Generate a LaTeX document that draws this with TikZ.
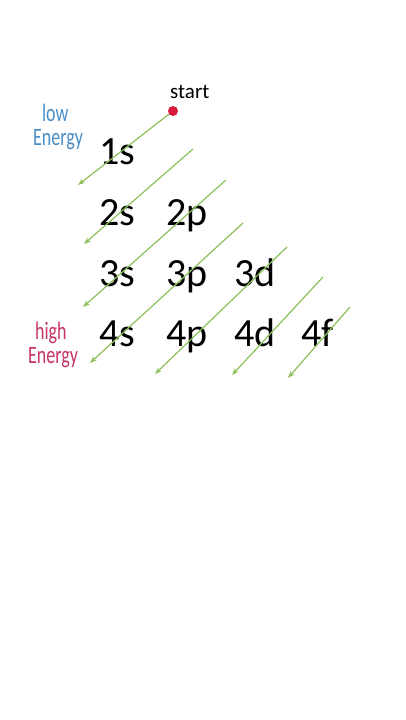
\documentclass[tikz,border=0pt]{standalone}
\usepackage{fontspec}
\setmainfont{Carlito}
\usetikzlibrary{arrows.meta}
\definecolor{arrowgreen}{HTML}{8DC05A}
\definecolor{dotred}{HTML}{D81B3C}
\definecolor{lowblue}{HTML}{4A8FC8}
\definecolor{highpink}{HTML}{C8336A}
\tikzset{
  orb/.style={anchor=base west, inner sep=0pt, font=\fontsize{40}{40}\selectfont, text=black},
  diag/.style={draw=arrowgreen, line width=1.2pt, -{Stealth[length=7pt,width=5pt]}},
  hand/.style={align=left, inner sep=0pt, font=\fontsize{25}{24}\selectfont\addfontfeatures{FakeStretch=0.72}},
}
\begin{document}
\begin{tikzpicture}[x=1pt,y=-1pt]
\useasboundingbox[fill=white] (0,0) rectangle (405,720);
% orbitals
\node[orb] (o1s) at (99,164) {1s};
\node[orb] (o2s) at (99,225) {2s};
\node[orb] (o2p) at (166,225) {2p};
\node[orb] (o3s) at (99,286) {3s};
\node[orb] (o3p) at (166,286) {3p};
\node[orb] (o3d) at (234,286) {3d};
\node[orb] (o4s) at (99,346) {4s};
\node[orb] (o4p) at (166,346) {4p};
\node[orb] (o4d) at (234,346) {4d};
\node[orb] (o4f) at (301,346) {4f};
% labels
\node[anchor=base west, inner sep=0pt, font=\fontsize{21}{21}\selectfont] (start) at (170,98) {start};
\node[hand, text=lowblue] (low) at (58,127) {\hspace*{9pt}low\\Energy};
\node[hand, text=highpink] (high) at (53,345) {\hspace*{7pt}high\\Energy};
% arrow end points
\coordinate (a1s) at (173,111); \coordinate (a1e) at (78,185);
\coordinate (a2s) at (193,149); \coordinate (a2e) at (84,244);
\coordinate (a3s) at (226,180); \coordinate (a3e) at (83,307);
\coordinate (a4s) at (243,223); \coordinate (a4e) at (90,363);
\coordinate (a5s) at (287,247); \coordinate (a5e) at (155,374);
\coordinate (a6s) at (323,277); \coordinate (a6e) at (232,375);
\coordinate (a7s) at (350,307); \coordinate (a7e) at (288,378);
\draw[diag] (a1s) -- (a1e);
\draw[diag] (a2s) -- (a2e);
\draw[diag] (a3s) -- (a3e);
\draw[diag] (a4s) -- (a4e);
\draw[diag] (a5s) -- (a5e);
\draw[diag] (a6s) -- (a6e);
\draw[diag] (a7s) -- (a7e);
\fill[dotred] (a1s) circle (5);
\end{tikzpicture}
\end{document}
